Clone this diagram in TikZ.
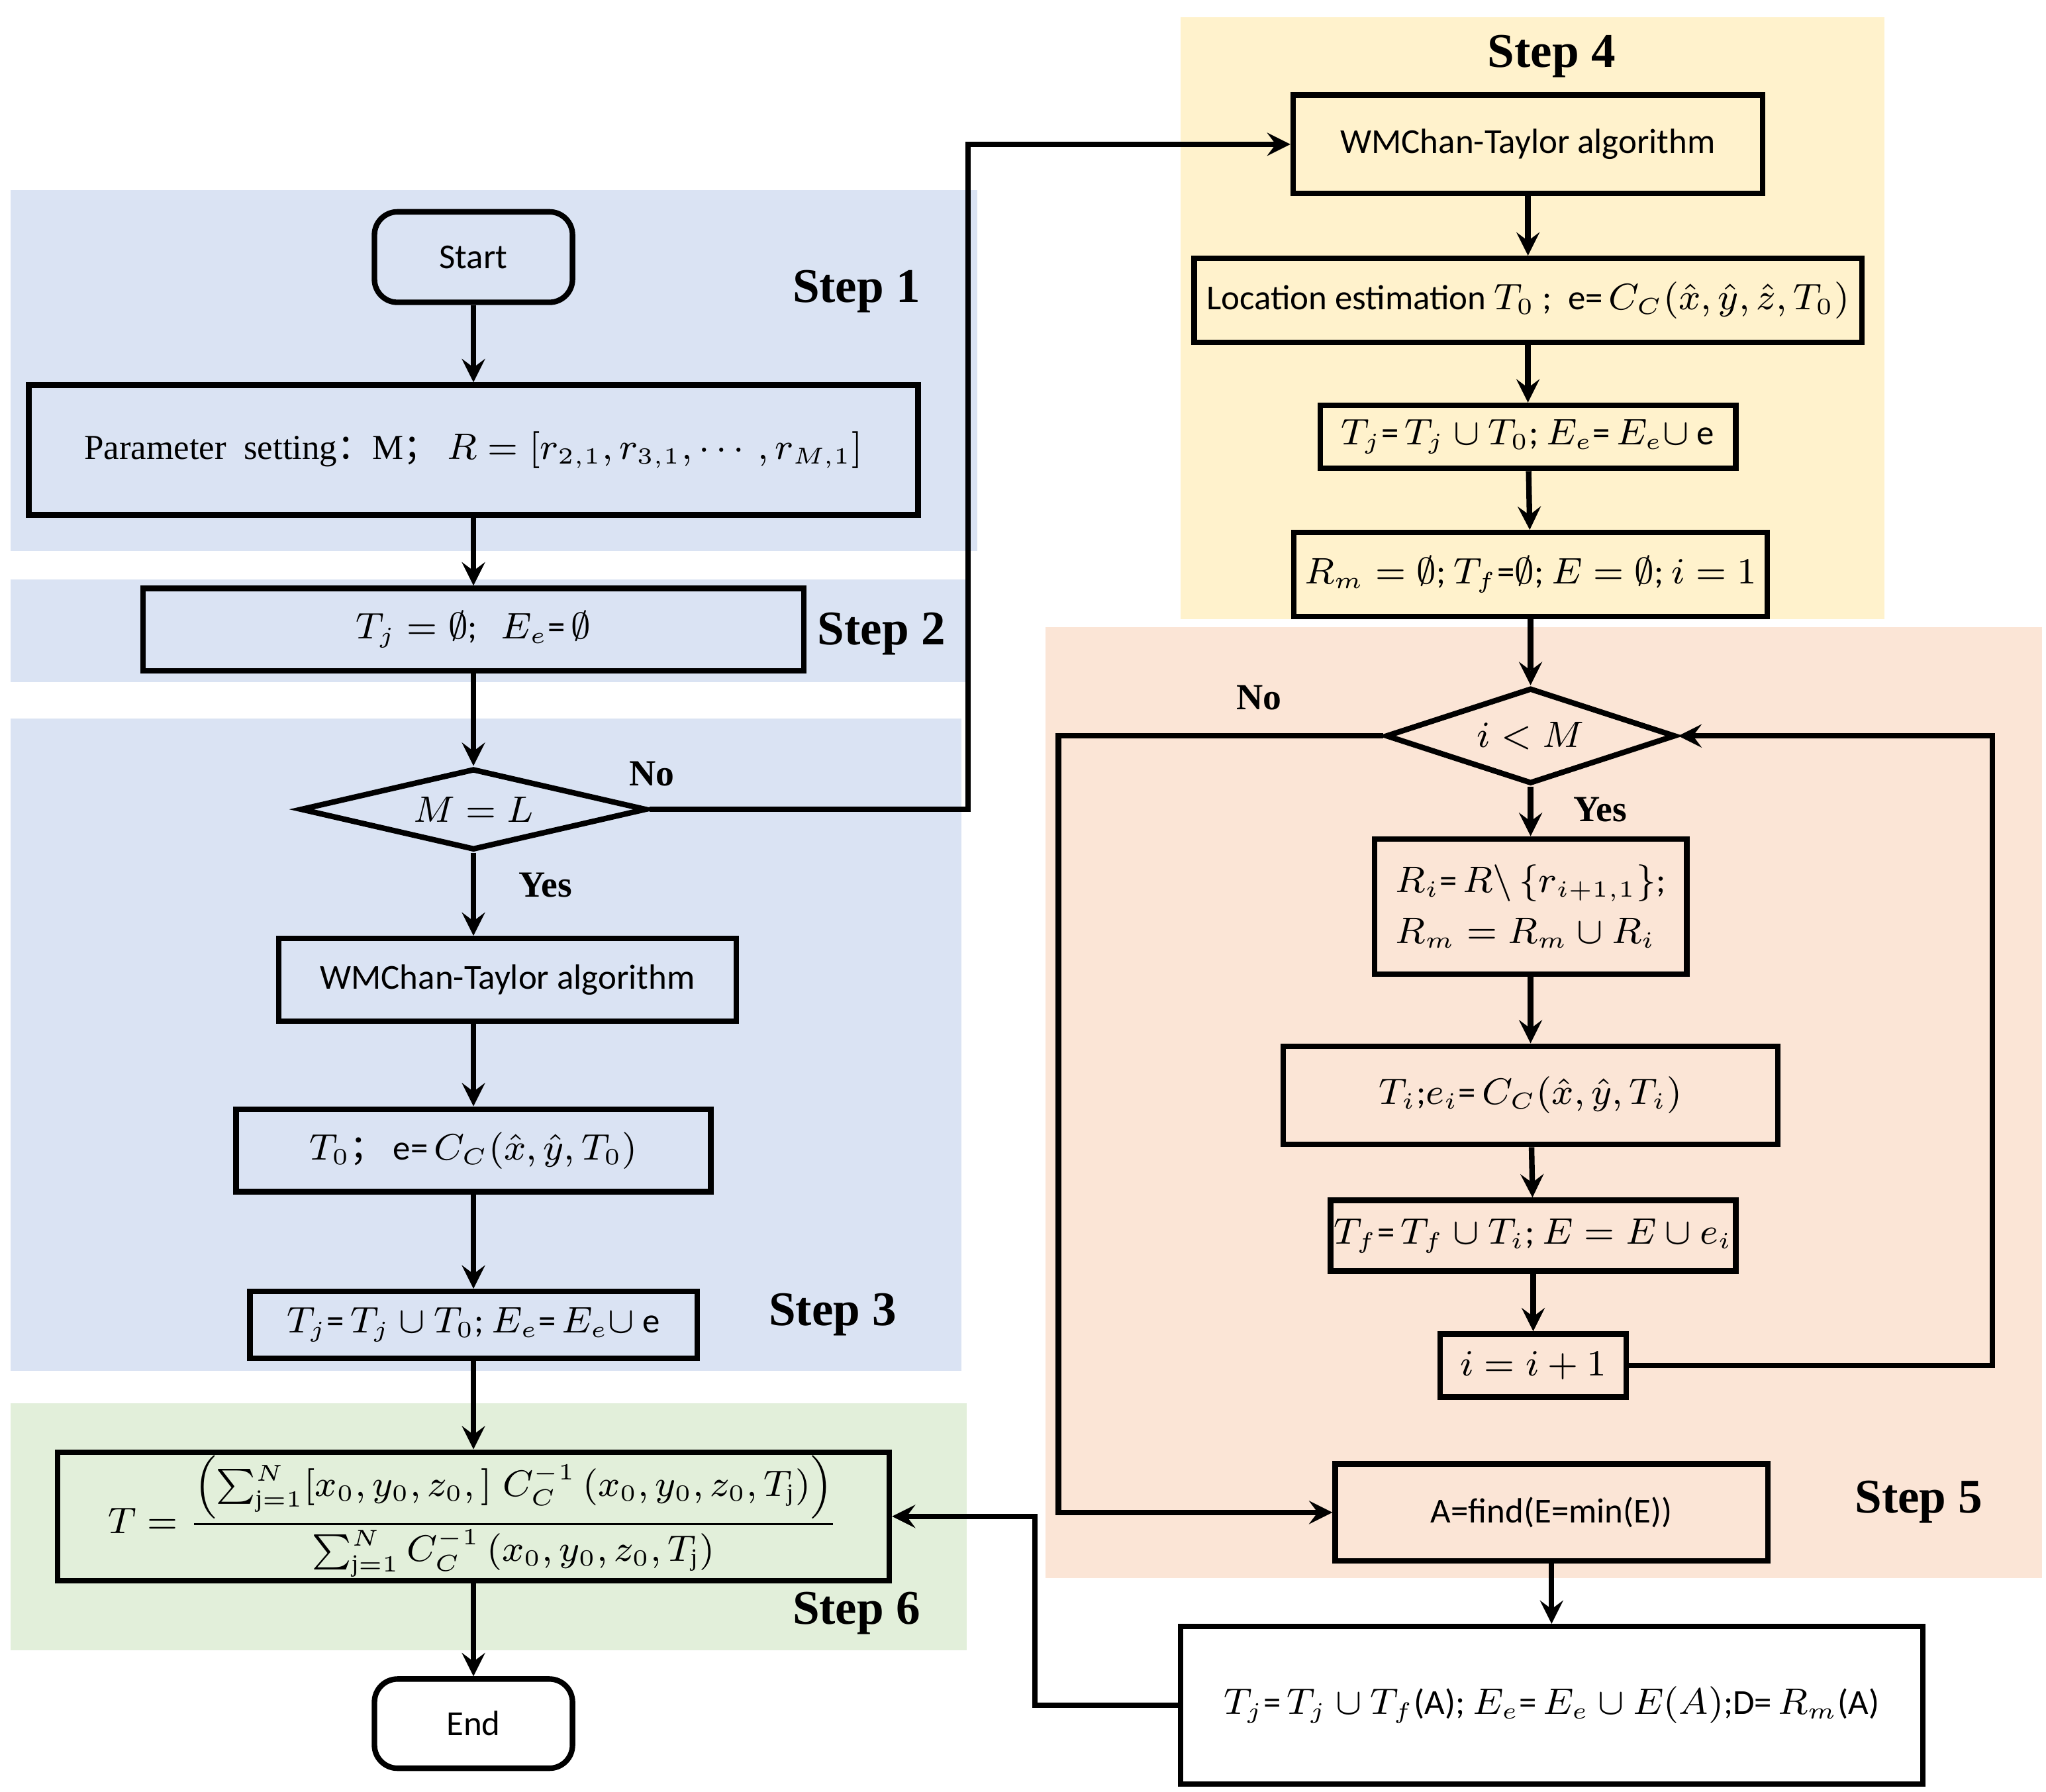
\documentclass[tikz,border=0pt]{standalone}
\usepackage{fontspec}
\usepackage{amsmath}
\usepackage{amssymb}
\setmainfont{Liberation Serif}
\newfontfamily\calfont{Carlito}
\newfontfamily\cjk{Noto Sans CJK SC}
\usetikzlibrary{shapes.geometric, arrows, positioning, calc}
\definecolor{stepblue}{RGB}{218,227,243}
\definecolor{stepgreen}{RGB}{226,239,218}
\definecolor{stepyellow}{RGB}{255,242,204}
\definecolor{steppink}{RGB}{251,229,214}

\begin{document}
\begin{tikzpicture}
    \tikzstyle{box} = [rectangle, draw=black, line width=1.2pt, inner sep=0, font=\calfont\fontsize{7.6}{9}\selectfont, align=center]
    \tikzstyle{term} = [box, rounded corners=5pt]
    \tikzstyle{decision} = [diamond, draw=black, line width=1.2pt, inner sep=0, aspect=3.6, font=\fontsize{7.6}{9}\selectfont]
    \tikzstyle{steplabel} = [font=\bfseries\fontsize{10.5}{12}\selectfont]
    \tikzstyle{answer} = [font=\bfseries\fontsize{8}{10}\selectfont]
    \tikzstyle{arrow} = [line width=1.2pt,->,>=stealth]

    \useasboundingbox (0,0) rectangle (15.6,-13.66);

    % step backgrounds
    \fill[stepblue] (0.08,-1.45) rectangle (7.45,-4.20);
    \fill[stepblue] (0.08,-4.42) rectangle (7.38,-5.20);
    \fill[stepblue] (0.08,-5.48) rectangle (7.33,-10.45);
    \fill[stepgreen] (0.08,-10.70) rectangle (7.37,-12.58);
    \fill[stepyellow] (9.00,-0.13) rectangle (14.37,-4.72);
    \fill[steppink] (7.97,-4.78) rectangle (15.57,-12.03);

    \node[steplabel] (s1) at (6.53,-2.22) {Step 1};
    \node[steplabel] (s2) at (6.72,-4.83) {Step 2};
    \node[steplabel] (s3) at (6.35,-10.02) {Step 3};
    \node[steplabel] (s4) at (11.83,-0.43) {Step 4};
    \node[steplabel] (s5) at (14.63,-11.45) {Step 5};
    \node[steplabel] (s6) at (6.53,-12.30) {Step 6};

    % left column
    \node[term, minimum width=1.51cm, minimum height=0.69cm] (start) at (3.61,-1.96) {Start};
    \node[box, minimum width=6.78cm, minimum height=0.99cm] (param) at (3.61,-3.43) {\rmfamily Parameter\ \ setting{\cjk ：}M{\cjk ；}\ $R=\left[r_{2,1},r_{3,1},\cdots,r_{M,1}\right]$};
    \node[box, minimum width=5.04cm, minimum height=0.63cm] (init) at (3.61,-4.80) {$T_j=\emptyset$;\ \ \ $E_e$=\,$\emptyset$};
    \node[decision, minimum width=2.64cm, minimum height=0.62cm] (ml) at (3.61,-6.17) {$M=L$};
    \node[box, minimum width=3.49cm, minimum height=0.63cm] (wmcl) at (3.87,-7.47) {WMChan-Taylor algorithm};
    \node[box, minimum width=3.62cm, minimum height=0.63cm] (est) at (3.61,-8.77) {$T_0${\cjk ；}\ e=\,$C_C(\hat{x},\hat{y},T_0)$};
    \node[box, minimum width=3.41cm, minimum height=0.51cm] (upd) at (3.61,-10.10) {$T_j$=\,$T_j\cup T_0$; $E_e$=\,$E_e\cup$ e};
    \node[box, minimum width=6.34cm, minimum height=0.98cm] (res) at (3.61,-11.56) {$T=\dfrac{\left(\sum_{\mathrm{j}=1}^{N}[x_0,y_0,z_0,]\;C_C^{-1}\,(x_0,y_0,z_0,T_\mathrm{j})\right)}{\sum_{\mathrm{j}=1}^{N}C_C^{-1}\,(x_0,y_0,z_0,T_\mathrm{j})}$};
    \node[term, minimum width=1.51cm, minimum height=0.68cm] (end) at (3.61,-13.14) {End};

    % right column
    \node[box, minimum width=3.58cm, minimum height=0.75cm] (wmcr) at (11.65,-1.10) {WMChan-Taylor algorithm};
    \node[box, minimum width=5.09cm, minimum height=0.64cm] (loc) at (11.65,-2.29) {Location estimation $T_0$ ;\ \ e=\,$C_C(\hat{x},\hat{y},\hat{z},T_0)$};
    \node[box, minimum width=3.17cm, minimum height=0.48cm] (updr) at (11.65,-3.33) {$T_j$=\,$T_j\cup T_0$; $E_e$=\,$E_e\cup$ e};
    \node[box, minimum width=3.61cm, minimum height=0.64cm] (reset) at (11.67,-4.38) {$R_m=\emptyset$; $T_f$=$\emptyset$; $E=\emptyset$; $i=1$};
    \node[decision, minimum width=2.21cm, minimum height=0.73cm, aspect=3] (im) at (11.67,-5.61) {$i<M$};
    \node[box, minimum width=2.38cm, minimum height=1.03cm, align=left] (sub) at (11.67,-6.91) {$R_i$=\,$R\backslash\left\{r_{i+1,1}\right\}$;\\[2pt] $R_m=R_m\cup R_i$};
    \node[box, minimum width=3.77cm, minimum height=0.75cm] (esti) at (11.67,-8.35) {$T_i$;$e_i$=\,$C_C(\hat{x},\hat{y},T_i)$};
    \node[box, minimum width=3.09cm, minimum height=0.54cm] (updi) at (11.69,-9.42) {$T_f$=\,$T_f\cup T_i$; $E=E\cup e_i$};
    \node[box, minimum width=1.42cm, minimum height=0.48cm] (inc) at (11.69,-10.41) {$i=i+1$};
    \node[box, minimum width=3.30cm, minimum height=0.74cm] (find) at (11.83,-11.53) {A=find(E=min(E))};
    \node[box, minimum width=5.66cm, minimum height=1.20cm, fill=white] (fin) at (11.83,-13.00) {$T_j$=\,$T_j\cup T_f$(A); $E_e$=\,$E_e\cup E(A)$;D=\,$R_m$(A)};

    \coordinate (noup) at (7.38,-6.17);
    \coordinate (notop) at (7.38,-1.10);
    \coordinate (loopr) at (15.19,-10.41);
    \coordinate (looprt) at (15.19,-5.61);
    \coordinate (exitl) at (8.07,-5.61);
    \coordinate (exitb) at (8.07,-11.53);
    \coordinate (backr) at (7.89,-13.00);
    \coordinate (backt) at (7.89,-11.56);

    \draw[arrow] (start) -- (param);
    \draw[arrow] (param) -- (init);
    \draw[arrow] (init) -- (ml);
    \draw[arrow] (ml) -- (ml.south |- wmcl.north);
    \draw[arrow] (wmcl.south -| est.north) -- (est);
    \draw[arrow] (est) -- (upd);
    \draw[arrow] (upd) -- (res);
    \draw[arrow] (res) -- (end);
    \draw[arrow] (ml.east) -- (noup) -- (notop) -- (wmcr.west);

    \draw[arrow] (wmcr) -- (loc);
    \draw[arrow] (loc) -- (updr);
    \draw[arrow] (updr) -- (reset);
    \draw[arrow] (reset) -- (im);
    \draw[arrow] (im) -- (sub);
    \draw[arrow] (sub) -- (esti);
    \draw[arrow] (esti) -- (updi);
    \draw[arrow] (updi) -- (inc);
    \draw[arrow] (inc.east) -- (loopr) -- (looprt) -- (im.east);
    \draw[arrow] (im.west) -- (exitl) -- (exitb) -- (find.west);
    \draw[arrow] (find) -- (fin);
    \draw[arrow] (fin.west) -- (backr) -- (backt) -- (res.east);

    \node[answer] (no1) at (4.97,-5.90) {No};
    \node[answer] (yes1) at (4.16,-6.75) {Yes};
    \node[answer] (no2) at (9.60,-5.32) {No};
    \node[answer] (yes2) at (12.20,-6.17) {Yes};
\end{tikzpicture}
\end{document}
